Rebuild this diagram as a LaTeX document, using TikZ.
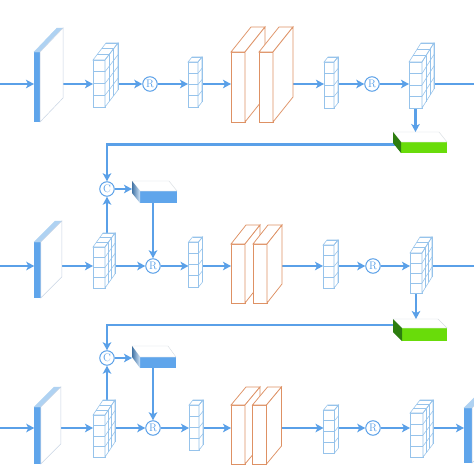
\documentclass[tikz,border=0pt]{standalone}
\usetikzlibrary{calc,arrows.meta}
\pgfdeclarelayer{back}
\pgfdeclarelayer{bg}
\pgfsetlayers{back,bg,main}
\definecolor{lineblue}{RGB}{90,160,232}
\definecolor{gridblue}{RGB}{150,195,235}
\definecolor{plateblue}{RGB}{95,165,235}
\definecolor{platetop}{RGB}{175,210,242}
\definecolor{plateedge}{RGB}{200,212,228}
\definecolor{boxorange}{RGB}{222,145,100}
\definecolor{greenfront}{RGB}{105,220,10}
\definecolor{greenside}{RGB}{45,125,15}
\definecolor{boxblue}{RGB}{95,165,235}
\definecolor{faintedge}{RGB}{215,220,225}
\tikzset{
  face/.style={rectangle, inner sep=0pt, outer sep=0pt, draw=none},
  arr/.style={draw=lineblue, line width=2.8pt, -{Stealth[length=8pt,width=8.5pt,inset=2pt]}},
  conn/.style={draw=lineblue, line width=2.8pt},
  op/.style={circle, draw=lineblue, line width=1pt, fill=white, minimum size=14.5pt, inner sep=0pt, text=lineblue, font=\fontsize{11}{11}\selectfont},
  gridln/.style={draw=gridblue, line width=0.55pt},
  orangeln/.style={draw=boxorange, line width=0.75pt, fill=white},
}
% plate: blue front edge, light blue top, white side
\newcommand\drawslab[3]{%
  \fill[plateblue] (#1.south west) rectangle (#1.north east);
  \filldraw[fill=platetop, draw=platetop, line width=0.4pt] (#1.north west) -- (#1.north east) -- ++(#2,#3) -- ($(#1.north west)+(#2,#3)$) -- cycle;
  \filldraw[fill=white, draw=plateedge, line width=0.5pt] (#1.north east) -- ++(#2,#3) -- ($(#1.south east)+(#2,#3)$) -- (#1.south east) -- cycle;
}
% grid cuboid: node, dx, dy, rows, layers
\newcommand\drawgrid[5]{%
  \filldraw[gridln, fill=white] (#1.south west) rectangle (#1.north east);
  \foreach \i in {1,...,#4}{\draw[gridln] ($(#1.south west)!\i/#4!(#1.north west)$) -- ($(#1.south east)!\i/#4!(#1.north east)$);}
  \filldraw[gridln, fill=white] (#1.north west) -- (#1.north east) -- ++(#2,#3) -- ($(#1.north west)+(#2,#3)$) -- cycle;
  \filldraw[gridln, fill=white] (#1.north east) -- ++(#2,#3) -- ($(#1.south east)+(#2,#3)$) -- (#1.south east) -- cycle;
  \foreach \j in {1,...,#5}{%
    \draw[gridln] ($(#1.north west)+\j/#5*(#2,#3)$) -- ($(#1.north east)+\j/#5*(#2,#3)$);
    \draw[gridln] ($(#1.north east)+\j/#5*(#2,#3)$) -- ($(#1.south east)+\j/#5*(#2,#3)$);}
  \foreach \i in {1,...,#4}{\draw[gridln] ($(#1.south east)!\i/#4!(#1.north east)$) -- ++(#2,#3);}
}
% orange slab
\newcommand\drawslabo[3]{%
  \filldraw[orangeln] (#1.south west) rectangle (#1.north east);
  \filldraw[orangeln] (#1.north west) -- (#1.north east) -- ++(#2,#3) -- ($(#1.north west)+(#2,#3)$) -- cycle;
  \filldraw[orangeln] (#1.north east) -- ++(#2,#3) -- ($(#1.south east)+(#2,#3)$) -- (#1.south east) -- cycle;
}
% flat box extending to back-left: node, dx, dy, front colour, side fill options
\newcommand\drawflat[5]{%
  \fill[#4] (#1.south west) rectangle (#1.north east);
  \filldraw[fill=white, draw=faintedge, line width=0.4pt] (#1.north west) -- (#1.north east) -- ++(#2,#3) -- ($(#1.north west)+(#2,#3)$) -- cycle;
  \path[#5] (#1.north west) -- ++(#2,#3) -- ($(#1.south west)+(#2,#3)$) -- (#1.south west) -- cycle;
}
\begin{document}
\begin{tikzpicture}[x=1pt,y=-1pt]
\useasboundingbox (0,0) rectangle (474,474);
\clip (0,0) rectangle (474,474);
\begin{pgfonlayer}{back}
\fill[white] (0,0) rectangle (474,474);
\end{pgfonlayer}

% row reference coordinates
\coordinate (in1) at (0,84);
\coordinate (in2) at (0,266);
\coordinate (in3) at (0,428);
\coordinate (out1) at (474,84);
\coordinate (out2) at (474,266);

% ---------- nodes: row 1
\node[face, minimum width=6pt, minimum height=70pt] (plate1) at (37,87) {};
\node[face, minimum width=12pt, minimum height=47pt] (cube1) at (99,83.5) {};
\node[op] (R1) at (150,84) {R};
\node[face, minimum width=10pt, minimum height=45pt] (col1) at (193,84.5) {};
\node[face, minimum width=14pt, minimum height=70pt] (box1a) at (238,87) {};
\node[face, minimum width=14pt, minimum height=70pt] (box1b) at (266,87) {};
\node[face, minimum width=10pt, minimum height=46pt] (col2) at (329,85) {};
\node[op] (R2) at (372,84) {R};
\node[face, minimum width=13pt, minimum height=46pt] (cube2) at (415.5,85) {};
\node[face, minimum width=46pt, minimum height=11pt] (green1) at (424,147.5) {};
\node[op] (C1) at (107,189) {C};
\node[face, minimum width=37pt, minimum height=12pt] (blue1) at (158.5,197) {};

% ---------- nodes: row 2
\node[face, minimum width=6.5pt, minimum height=56pt] (plate2) at (37.5,270) {};
\node[face, minimum width=12pt, minimum height=41pt] (cube3) at (99,267.5) {};
\node[op] (R3) at (153,266) {R};
\node[face, minimum width=10pt, minimum height=45pt] (col3) at (193.5,264.5) {};
\node[face, minimum width=14pt, minimum height=59pt] (box2a) at (238,273.5) {};
\node[face, minimum width=14pt, minimum height=59pt] (box2b) at (260,273.5) {};
\node[face, minimum width=11pt, minimum height=43pt] (col4) at (328.5,266.5) {};
\node[op] (R4) at (373,266) {R};
\node[face, minimum width=12pt, minimum height=40pt] (cube4) at (416,273) {};
\node[face, minimum width=45pt, minimum height=13pt] (green2) at (424.5,334.5) {};
\node[op] (C2) at (107,358) {C};
\node[face, minimum width=36pt, minimum height=11pt] (blue2) at (158,362.5) {};

% ---------- nodes: row 3
\node[face, minimum width=6.5pt, minimum height=57pt] (plate3) at (37.5,435.5) {};
\node[face, minimum width=12pt, minimum height=42pt] (cube5) at (99,436) {};
\node[op] (R5) at (153,428) {R};
\node[face, minimum width=10pt, minimum height=45pt] (col5) at (194,427.5) {};
\node[face, minimum width=14pt, minimum height=59pt] (box3a) at (238,434.5) {};
\node[face, minimum width=14pt, minimum height=59pt] (box3b) at (259.5,434.5) {};
\node[face, minimum width=11pt, minimum height=43pt] (col6) at (329,431.5) {};
\node[op] (R6) at (373,428) {R};
\node[face, minimum width=13pt, minimum height=44pt] (cube6) at (416.5,435) {};
\node[face, minimum width=8pt, minimum height=55pt] (plate4) at (468,435.5) {};

% helper coordinates on the boxes
\coordinate (g1back) at ($(green1.north west)+(-8,-10)$);
\coordinate (g2back) at ($(green2.north west)+(-9,-9)$);
\coordinate (b1back) at ($(blue1.south west)+(-8,-10)$);
\coordinate (b2back) at ($(blue2.south west)+(-8,-11)$);
\coordinate (g1out) at ($(green1.west)+(-5,-3)$);
\coordinate (g2out) at ($(green2.west)+(-6,-9.5)$);

% ---------- shapes
\drawslab{plate1}{23}{-24}
\drawgrid{cube1}{13}{-17}{4}{3}
\drawgrid{col1}{4}{-5}{4}{1}
\drawslabo{box1a}{20}{-25}
\drawslabo{box1b}{20}{-25}
\drawgrid{col2}{4}{-5}{4}{1}
\drawgrid{cube2}{12}{-19}{4}{3}
\drawflat{green1}{-8}{-10}{greenfront}{fill=greenside}
\drawflat{blue1}{-8}{-10}{boxblue}{left color=boxblue!70!black, right color=boxblue!30}

\drawslab{plate2}{21}{-21}
\drawgrid{cube3}{10}{-14}{4}{3}
\drawgrid{col3}{4}{-5}{4}{1}
\drawslabo{box2a}{15}{-19}
\drawslabo{box2b}{15}{-19}
\drawgrid{col4}{4}{-5}{4}{1}
\drawgrid{cube4}{10}{-16}{4}{3}
\drawflat{green2}{-9}{-9}{greenfront}{fill=greenside}
\drawflat{blue2}{-8}{-11}{boxblue}{left color=boxblue!70!black, right color=boxblue!30}

\drawslab{plate3}{20}{-20}
\drawgrid{cube5}{10}{-15}{4}{3}
\drawgrid{col5}{4}{-5}{4}{1}
\drawslabo{box3a}{15}{-18}
\drawslabo{box3b}{15}{-18}
\drawgrid{col6}{4}{-5}{4}{1}
\drawgrid{cube6}{10}{-13}{4}{3}
\drawslab{plate4}{20}{-20}

% ---------- connectors
\begin{pgfonlayer}{bg}
% row 1
\draw[arr] (in1) -- (in1 -| plate1.west);
\draw[arr] (in1 -| plate1.east) -- (in1 -| cube1.west);
\draw[arr] (in1 -| cube1.east) -- (R1.west);
\draw[arr] (R1.east) -- (in1 -| col1.west);
\draw[arr] (in1 -| col1.east) -- (in1 -| box1a.west);
\draw[arr] (in1 -| box1b.east) -- (in1 -| col2.west);
\draw[arr] (in1 -| col2.east) -- (R2.west);
\draw[arr] (R2.east) -- (in1 -| cube2.west);
\draw[conn] (in1 -| cube2.east) -- (out1);
\draw[arr] (cube2.south) -- (cube2.south |- g1back);
\draw[arr] (g1out) -| (C1.north);
\draw[arr] (C1.east) -- (C1.east -| b1back);
\draw[arr] (R3.north |- blue1.south) -- (R3.north);
\draw[arr] (C1.south |- cube3.north) -- (C1.south);
% row 2
\draw[arr] (in2) -- (in2 -| plate2.west);
\draw[arr] (in2 -| plate2.east) -- (in2 -| cube3.west);
\draw[arr] (in2 -| cube3.east) -- (R3.west);
\draw[arr] (R3.east) -- (in2 -| col3.west);
\draw[arr] (in2 -| col3.east) -- (in2 -| box2a.west);
\draw[arr] (in2 -| box2b.east) -- (in2 -| col4.west);
\draw[arr] (in2 -| col4.east) -- (R4.west);
\draw[arr] (R4.east) -- (in2 -| cube4.west);
\draw[conn] (in2 -| cube4.east) -- (out2);
\draw[arr] (cube4.south) -- (cube4.south |- g2back);
\draw[arr] (g2out) -| (C2.north);
\draw[arr] (C2.east) -- (C2.east -| b2back);
\draw[arr] (R5.north |- blue2.south) -- (R5.north);
\draw[arr] (C2.south |- cube5.north) -- (C2.south);
% row 3
\draw[arr] (in3) -- (in3 -| plate3.west);
\draw[arr] (in3 -| plate3.east) -- (in3 -| cube5.west);
\draw[arr] (in3 -| cube5.east) -- (R5.west);
\draw[arr] (R5.east) -- (in3 -| col5.west);
\draw[arr] (in3 -| col5.east) -- (in3 -| box3a.west);
\draw[arr] (in3 -| box3b.east) -- (in3 -| col6.west);
\draw[arr] (in3 -| col6.east) -- (R6.west);
\draw[arr] (R6.east) -- (in3 -| cube6.west);
\draw[arr] (in3 -| cube6.east) -- (in3 -| plate4.west);
\end{pgfonlayer}
\end{tikzpicture}
\end{document}
